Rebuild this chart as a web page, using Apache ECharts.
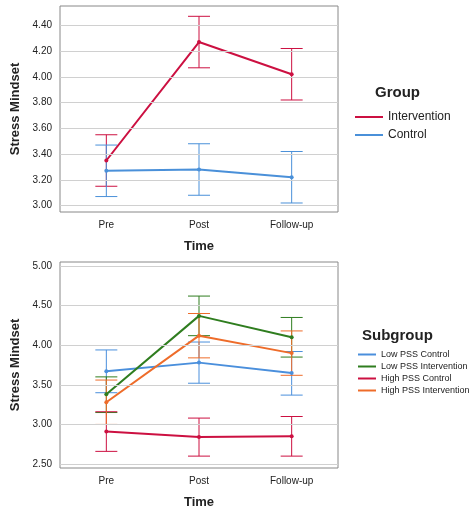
<!DOCTYPE html>
<html><head><meta charset="utf-8">
<script src="https://cdn.jsdelivr.net/npm/echarts@6/dist/echarts.min.js"></script>
<style>html,body{margin:0;background:#fff}#c{width:474px;height:514px}</style>
</head><body><div id="c"></div>
<script>
var times = ['Pre', 'Post', 'Follow-up'];

// top panel: Group
var groupNames = ['Intervention', 'Control'];
var groupColors = ['#cc1041', '#4a90d9'];
var groupMean = [[3.35, 4.27, 4.02], [3.27, 3.28, 3.22]];
var groupLow = [[3.15, 4.07, 3.82], [3.07, 3.08, 3.02]];
var groupHigh = [[3.55, 4.47, 4.22], [3.47, 3.48, 3.42]];
var groupTicks = [3.0, 3.2, 3.4, 3.6, 3.8, 4.0, 4.2, 4.4];

// bottom panel: Subgroup
var subNames = ['Low PSS Control', 'Low PSS Intervention', 'High PSS Control', 'High PSS Intervention'];
var subColors = ['#4a8fdc', '#2f7d1f', '#cc1041', '#ee6c2a'];
var subMean = [[3.67, 3.78, 3.65], [3.38, 4.37, 4.10], [2.91, 2.84, 2.85], [3.28, 4.12, 3.90]];
var subLow = [[3.40, 3.52, 3.37], [3.15, 4.12, 3.85], [2.66, 2.60, 2.60], [3.00, 3.84, 3.62]];
var subHigh = [[3.94, 4.04, 3.92], [3.60, 4.62, 4.35], [3.16, 3.08, 3.10], [3.56, 4.40, 4.18]];
var subTicks = [2.5, 3.0, 3.5, 4.0, 4.5, 5.0];

var font = 'Liberation Sans';

function errSeries(gi, color, low, high) {
  return {
    type: 'custom', xAxisIndex: gi, yAxisIndex: gi, z: 3,
    data: low.map(function (l, i) { return [i, l, high[i]]; }),
    renderItem: function (p, api) {
      var a = api.coord([api.value(0), api.value(1)]);
      var b = api.coord([api.value(0), api.value(2)]);
      var w = 11, st = { stroke: color, lineWidth: 1 };
      return { type: 'group', children: [
        { type: 'line', shape: { x1: a[0], y1: a[1], x2: b[0], y2: b[1] }, style: st },
        { type: 'line', shape: { x1: a[0] - w, y1: a[1], x2: a[0] + w, y2: a[1] }, style: st },
        { type: 'line', shape: { x1: b[0] - w, y1: b[1], x2: b[0] + w, y2: b[1] }, style: st }
      ] };
    }
  };
}

function gridLines(gi, ticks) {
  return { type: 'line', xAxisIndex: gi, yAxisIndex: gi, data: [], z: 1,
    markLine: { silent: true, symbol: 'none', label: { show: false }, animation: false,
      lineStyle: { color: '#d0d0d0', type: 'solid', width: 1 },
      data: ticks.map(function (t) { return { yAxis: t }; }) } };
}

var series = [gridLines(0, groupTicks), gridLines(1, subTicks)];
groupNames.forEach(function (n, k) {
  series.push({ name: n, type: 'line', xAxisIndex: 0, yAxisIndex: 0, data: groupMean[k],
    color: groupColors[k], symbol: 'circle', symbolSize: 4, lineStyle: { width: 2 }, z: 4 });
  series.push(errSeries(0, groupColors[k], groupLow[k], groupHigh[k]));
});
subNames.forEach(function (n, k) {
  series.push({ name: n, type: 'line', xAxisIndex: 1, yAxisIndex: 1, data: subMean[k],
    color: subColors[k], symbol: 'circle', symbolSize: 4, lineStyle: { width: 2 }, z: 4 });
  series.push(errSeries(1, subColors[k], subLow[k], subHigh[k]));
});

function xAx(gi) {
  return { type: 'category', gridIndex: gi, data: times, boundaryGap: true,
    name: 'Time', nameLocation: 'middle', nameGap: 28,
    nameTextStyle: { fontFamily: font, fontWeight: 'bold', fontSize: 13, color: '#222' },
    axisLine: { show: false }, axisTick: { show: false },
    axisLabel: { fontFamily: font, fontSize: 10, color: '#222', margin: 8 } };
}
function yAx(gi, min, max, ticks) {
  return { type: 'value', gridIndex: gi, min: min, max: max,
    name: 'Stress Mindset', nameLocation: 'middle', nameGap: 38,
    nameTextStyle: { fontFamily: font, fontWeight: 'bold', fontSize: 13, color: '#222' },
    axisLine: { show: false }, axisTick: { show: false }, splitLine: { show: false },
    axisLabel: { fontFamily: font, fontSize: 10, color: '#222', customValues: ticks,
      formatter: function (v) { return v.toFixed(2); } } };
}

var chart = echarts.init(document.getElementById('c'));
chart.setOption({
  animation: false,
  backgroundColor: '#fff',
  grid: [
    { left: 60, top: 6, width: 278, height: 206, show: true, borderColor: '#888', backgroundColor: 'transparent' },
    { left: 60, top: 262, width: 278, height: 206, show: true, borderColor: '#888', backgroundColor: 'transparent' }
  ],
  xAxis: [xAx(0), xAx(1)],
  yAxis: [yAx(0, 2.95, 4.55, groupTicks), yAx(1, 2.45, 5.05, subTicks)],
  title: [
    { text: 'Group', left: 370, top: 80, textStyle: { fontFamily: font, fontWeight: 'bold', fontSize: 15, color: '#222' } },
    { text: 'Subgroup', left: 357, top: 323, textStyle: { fontFamily: font, fontWeight: 'bold', fontSize: 15, color: '#222' } }
  ],
  legend: [
    { data: groupNames, left: 350, top: 106, orient: 'vertical', icon: 'rect', itemWidth: 28, itemHeight: 2,
      itemGap: 6, textStyle: { fontFamily: font, fontSize: 12, color: '#222' } },
    { data: subNames, left: 353, top: 345, orient: 'vertical', icon: 'rect', itemWidth: 18, itemHeight: 2,
      itemGap: 3, textStyle: { fontFamily: font, fontSize: 9, color: '#222' } }
  ],
  series: series
});
</script></body></html>
